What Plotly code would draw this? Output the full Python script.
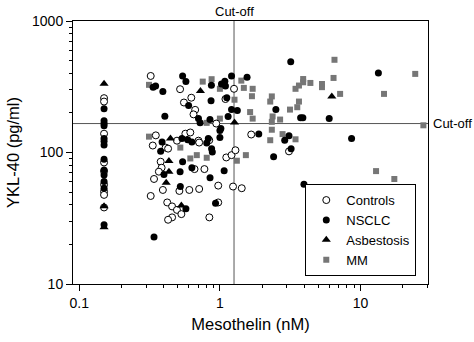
import math
import plotly.graph_objects as go

# ---------------- data ----------------
controls_x = [0.15, 0.15, 0.15, 0.15, 0.15, 0.15, 0.15, 0.15, 0.15,
              0.322, 0.521, 1.26, 0.626, 0.555, 1.095, 0.667, 0.649, 0.942,
              0.35, 0.495, 0.568, 0.616, 0.704, 0.333, 0.411, 0.428, 0.84,
              0.712, 1.11, 1.21, 1.29, 0.379, 0.385, 0.368, 0.66, 0.776,
              0.340, 0.393, 0.515, 0.606, 0.712, 0.973, 1.24, 1.43, 0.322,
              0.422, 0.457, 0.495, 0.532, 0.973, 0.457, 0.428, 0.841, 1.67, 3.10]
controls_y = [259, 244, 139, 84, 72, 57, 50.5, 47.6, 38.2,
              382, 303, 305, 261, 240, 255, 211, 195, 166,
              135, 123, 139, 142, 123, 113, 109, 107, 124,
              119, 91.7, 95.5, 104, 85.1, 76.6, 71.5, 74.8, 74.8,
              62.9, 51.9, 51, 51.9, 52.8, 56, 55.1, 53.5, 46.7,
              41.7, 38.9, 36.6, 34.0, 41.7, 32.1, 30.8, 32.1, 137, 102]

nsclc_x = [0.15, 0.15, 0.15, 0.15, 0.15, 0.15, 0.15, 0.15, 0.15, 0.15, 0.15, 0.15, 0.15,
           0.335, 0.349, 0.393, 0.543, 0.573, 0.87, 1.026, 1.084, 1.095, 1.21,
           0.599, 0.865, 1.12, 0.406, 0.704, 0.723, 0.85, 1.016, 1.144, 1.21, 1.33,
           0.388, 0.537, 0.632, 0.827, 1.0, 1.0, 0.379, 0.806, 0.873, 0.883,
           0.543, 0.521, 0.632, 1.072, 0.851, 0.40, 0.523, 0.573, 0.931, 0.340,
           1.56, 3.19, 2.50, 1.89, 3.10, 2.89, 3.21, 2.41, 3.75, 3.89, 5.99,
           8.64, 13.4, 3.96, 0.59]
nsclc_y = [215, 174, 166, 160, 128, 122, 114, 89, 73.5, 67.3, 60.1, 53.5, 28.2,
           314, 321, 291, 382, 346, 325, 332, 348, 321, 382,
           228, 248, 261, 189, 181, 168, 178, 152, 188, 212, 209,
           120, 128, 120, 128, 130, 147, 102, 118, 107, 101,
           85.1, 71.5, 76.6, 72.7, 64.4, 68, 55.1, 37.3, 41.2, 22.8,
           373, 490, 212, 138, 134, 124, 107, 92.8, 184, 184, 181,
           128, 403, 57.3, 125]

asb_x = [0.15, 0.15, 0.15, 0.727, 1.27, 0.445, 0.434, 0.434, 0.415, 0.532, 6.25]
asb_y = [333, 39, 27, 294, 169, 128, 86, 71.5, 59, 39.5, 267]

mm_x = [0.313, 0.755, 0.873, 1.0, 1.27, 0.805, 1.0, 0.313, 0.523, 0.616, 0.685,
        0.806, 1.32, 1.53, 6.53, 1.42, 1.48, 1.71, 1.69, 1.64, 1.71, 2.34,
        2.28, 2.37, 2.34, 2.68, 2.34, 2.28, 2.79, 3.45, 3.15, 3.55, 3.65,
        3.45, 3.65, 3.91, 3.91, 4.40, 5.32, 5.32, 6.43, 7.16, 24.5, 14.7,
        28.0, 12.9, 17.4]
mm_y = [327, 346, 361, 305, 252, 168, 181, 132, 109, 90.1, 95.5,
        91.2, 86.6, 95.5, 507, 352, 310, 305, 268, 203, 181, 267,
        244, 188, 171, 178, 149, 124, 138, 126, 212, 221, 244,
        305, 323, 342, 362, 338, 332, 314, 369, 279, 396, 279,
        161, 72.2, 62.9]

cutoff_x = 1.26      # nM
cutoff_y = 166       # pg/ml

x_range = [0.0902, 30.2]
y_range = [10, 1000]

x_tickvals = [0.1, 1, 10]
x_ticktext = ["0.1", "1", "10"]
y_tickvals = [10, 100, 1000]
y_ticktext = ["10", "100", "1000"]

# ---------------- figure ----------------
FONT = "Liberation Sans, Arial, sans-serif"
fig = go.Figure()

fig.add_trace(go.Scatter(x=[cutoff_x, cutoff_x], y=y_range, mode="lines",
                         line=dict(color="#555555", width=1), showlegend=False,
                         hoverinfo="skip"))
fig.add_trace(go.Scatter(x=x_range, y=[cutoff_y, cutoff_y], mode="lines",
                         line=dict(color="#555555", width=1), showlegend=False,
                         hoverinfo="skip"))

fig.add_trace(go.Scatter(x=mm_x, y=mm_y, mode="markers", name="MM", legendrank=4,
                         marker=dict(symbol="square", size=6, color="#767676",
                                     line=dict(width=0))))
fig.add_trace(go.Scatter(x=controls_x, y=controls_y, mode="markers", name="Controls",
                         legendrank=1,
                         marker=dict(symbol="circle", size=7, color="white",
                                     line=dict(color="black", width=1))))
fig.add_trace(go.Scatter(x=nsclc_x, y=nsclc_y, mode="markers", name="NSCLC", legendrank=2,
                         marker=dict(symbol="circle", size=7, color="black",
                                     line=dict(width=0))))
fig.add_trace(go.Scatter(x=asb_x, y=asb_y, mode="markers", name="Asbestosis", legendrank=3,
                         marker=dict(symbol="triangle-up", size=8, color="black",
                                     line=dict(width=0))))

axis_common = dict(type="log", showline=True, linecolor="black", linewidth=1,
                   mirror=True, ticks="outside", ticklen=6, tickcolor="black",
                   showgrid=False, zeroline=False,
                   tickfont=dict(family=FONT, size=14, color="black"),
                   minor=dict(ticks="outside", ticklen=3, tickcolor="black",
                              dtick="D1", showgrid=False))

fig.update_xaxes(**axis_common,
                 range=[math.log10(x_range[0]), math.log10(x_range[1])],
                 tickvals=x_tickvals, ticktext=x_ticktext,
                 title=dict(text="Mesothelin (nM)",
                            font=dict(family=FONT, size=16.5, color="black"),
                            standoff=8))
fig.update_yaxes(**axis_common,
                 range=[math.log10(y_range[0]), math.log10(y_range[1])],
                 tickvals=y_tickvals, ticktext=y_ticktext,
                 title=dict(text="YKL-40 (pg/ml)",
                            font=dict(family=FONT, size=16.5, color="black"),
                            standoff=8))

fig.add_annotation(text="Cut-off", xref="x", yref="paper",
                   x=math.log10(cutoff_x), y=1, yanchor="bottom", xanchor="center",
                   yshift=0, showarrow=False,
                   font=dict(family=FONT, size=13, color="black"))
fig.add_annotation(text="Cut-off", xref="paper", yref="y",
                   x=1, y=math.log10(cutoff_y), xanchor="left", yanchor="middle",
                   xshift=3, showarrow=False,
                   font=dict(family=FONT, size=13, color="black"))

fig.update_layout(
    width=474, height=342,
    margin=dict(l=68, r=46, t=21, b=55),
    paper_bgcolor="white", plot_bgcolor="white",
    font=dict(family=FONT, size=13, color="black"),
    legend=dict(x=0.967, y=0.03, xanchor="right", yanchor="bottom",
                bordercolor="black", borderwidth=1, bgcolor="white",
                font=dict(family=FONT, size=13, color="black"),
                tracegroupgap=0, itemwidth=30),
    showlegend=True,
)

fig.write_html("out.html")
